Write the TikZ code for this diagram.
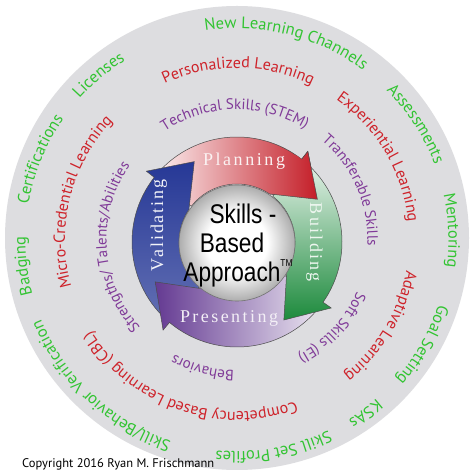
\documentclass[tikz,border=0pt]{standalone}
\usepackage{fontspec}
\setmainfont{Liberation Serif}
\newfontfamily\ringfont{PT Sans}
\newfontfamily\hubfont{Liberation Sans}
\usetikzlibrary{decorations.text}

\definecolor{discgray}{RGB}{221,221,224}
\definecolor{chgreen}{RGB}{50,196,50}
\definecolor{chred}{RGB}{206,34,42}
\definecolor{chpurple}{RGB}{128,58,152}
\definecolor{planred}{RGB}{196,30,40}
\definecolor{buildgreen}{RGB}{28,138,60}
\definecolor{presentpurple}{RGB}{100,58,146}
\definecolor{validblue}{RGB}{38,56,150}

\tikzstyle{arrowline} = [draw=black!70, line width=0.5pt]
\tikzstyle{hubtext} = [font=\hubfont\fontsize{27}{30}\selectfont, xscale=0.84, inner sep=0pt]

\pgfdeclareradialshading{hubshade}{\pgfpoint{0bp}{0bp}}{color(0bp)=(white); color(13bp)=(white); color(25bp)=(black!32); color(50bp)=(black!32)}

% text on a clockwise arc round (ring): radius, mid angle, colour, size, text
\newcommand{\ringtext}[5]{%
  \path[decorate, decoration={text along path, text align=center, text color=#3,
      text={|\ringfont\fontsize{#4}{#4}\selectfont|#5}}]
    (ring) ++({#2+90}:#1) arc[start angle={#2+90}, end angle={#2-90}, radius=#1];}

% one arrow of the cycle: tail angle, barb angle
\newcommand{\cyclepath}[2]{(#1:105) arc[start angle=#1, end angle=#2, radius=105]
  -- (#2:115) -- ({#2-24}:91) -- ({#2+4}:58) arc[start angle={#2+4}, end angle=#1, radius=58] -- cycle}

% label on an arrow, spread between two points
\newcommand{\cyclelabel}[4]{%
  \path[decorate, decoration={text along path, text align={fit to path}, text color=#3,
      text={|\rmfamily\fontsize{18}{18}\selectfont|#4}}] #1 -- #2;}

\begin{document}
\begin{tikzpicture}[x=1pt, y=1pt]
  \useasboundingbox (0,0) rectangle (474,474);
  \fill[white] (0,0) rectangle (474,474);
  \fill[discgray] (237,236) circle (232);
  \coordinate (ring) at (237,234);

  % outer ring
  \ringtext{211.5}{76}{chgreen}{16.5}{New Learning Channels}
  \ringtext{211.5}{33}{chgreen}{16.5}{Assessments}
  \ringtext{211.5}{2.5}{chgreen}{16.5}{Mentoring}
  \ringtext{211.5}{-29.5}{chgreen}{16.5}{Goal Setting}
  \ringtext{211.5}{-53.5}{chgreen}{16.5}{KSAs}
  \ringtext{211.5}{-80}{chgreen}{16.5}{Skill Set Profiles}
  \ringtext{211.5}{227}{chgreen}{16.5}{Skill/Behavior Verification}
  \ringtext{211.5}{187}{chgreen}{16.5}{Badging}
  \ringtext{211.5}{157.7}{chgreen}{16.5}{Certifications}
  \ringtext{211.5}{130}{chgreen}{16.5}{Licenses}

  % middle ring
  \ringtext{172}{89.6}{chred}{16}{Personalized Learning}
  \ringtext{172}{30.4}{chred}{16}{Experiential Learning}
  \ringtext{172}{-30.8}{chred}{16}{Adaptive Learning}
  \ringtext{172}{251}{chred}{16}{Competency Based Learning (CBL)}
  \ringtext{172}{166}{chred}{16}{Micro-Credential Learning}

  % inner ring
  \ringtext{130.5}{91}{chpurple}{15}{Technical Skills (STEM)}
  \ringtext{130.5}{23.5}{chpurple}{15}{Transferable Skills}
  \ringtext{130.5}{-42.7}{chpurple}{15}{Soft Skills (EI)}
  \ringtext{130.5}{255}{chpurple}{15}{Behaviors}
  \ringtext{130.5}{183.7}{chpurple}{15}{Strengths/ Talents/Abilities}

  % cycle arrows
  \begin{scope}[shift={(237,232)}]
    \shadedraw[arrowline, left color=planred!6!white, right color=planred] \cyclepath{142}{52};
    \shadedraw[arrowline, top color=validblue, bottom color=validblue!72!white] \cyclepath{230}{142};
    \shadedraw[arrowline, left color=presentpurple, right color=presentpurple!12!white] \cyclepath{-35}{-130};
    \shadedraw[arrowline, top color=buildgreen!10!white, bottom color=buildgreen] \cyclepath{52}{-35};
    \begin{scope}
      \clip (56:105) -- (52:105) -- (52:116) -- (28:91) -- (56:58) -- cycle;
      \shade[left color=planred!6!white, right color=planred] \cyclepath{142}{52};
    \end{scope}
    \draw[arrowline] (52:105) -- (52:115) -- (28:91) -- (56:58);
  \end{scope}

  % hub
  \shade[shading=hubshade] (237,231) circle (58);
  \draw[black!55, line width=0.6pt] (237,231) circle (58);

  \cyclelabel{(203,308)}{(285,308)}{planred!6!white}{Planning}
  \cyclelabel{(310,271)}{(310,192)}{buildgreen!8!white}{Building}
  \cyclelabel{(180,151)}{(278,151)}{presentpurple!8!white}{Presenting}
  \cyclelabel{(163,202)}{(163,294)}{validblue!6!white}{Validating}

  \node[hubtext] (skills) at (243,260) {Skills -};
  \node[hubtext] (based) at (232,231) {Based};
  \node[hubtext] (approach) at (238,201) {Approach\raisebox{0.55em}{\fontsize{10}{10}\selectfont TM}};

  \node[anchor=base west, inner sep=0pt, font=\ringfont\fontsize{12.5}{14}\selectfont] (copyright) at (22,6) {Copyright 2016 Ryan M. Frischmann};
\end{tikzpicture}
\end{document}
